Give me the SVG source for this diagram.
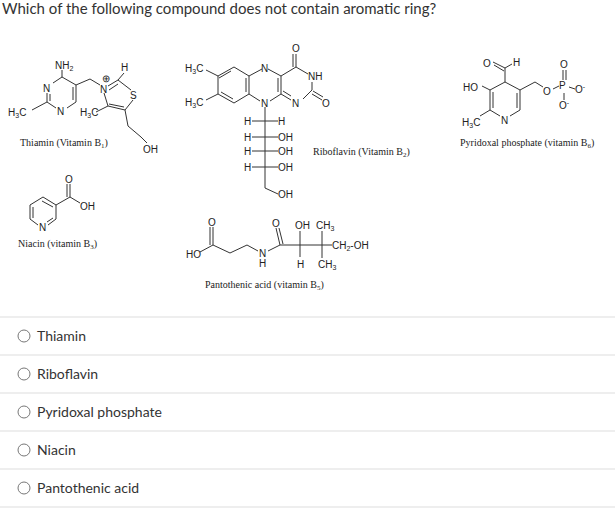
<svg xmlns="http://www.w3.org/2000/svg" width="615" height="519" viewBox="0 0 615 519">
<style>
.t{font-family:Lato,"Liberation Sans",sans-serif;fill:#333}
.q{font-size:15px}
.o{font-size:14px}
.c{font-family:"Liberation Sans",Arial,sans-serif;font-size:10px;fill:#222}
.s{font-family:"Liberation Serif","Times New Roman",serif;font-size:10px;fill:#222}
.b{stroke:#333;stroke-width:1;fill:none}
.sep{stroke:#ddd;stroke-width:1}
.r{fill:#fff;stroke:#777;stroke-width:1}
</style>
<rect width="615" height="519" fill="#fff"/>
<text class="t q" x="2" y="14">Which of the following compound does not contain aromatic ring?</text>

<g id="thiamin">
<path class="b" d="M62,70 V77 L76,85 V102 L67,108 M56,108 L47,102 V93 M53,83 L62,77 M50,101 V94 M73,87 V100 M47,102 L32,110 M76,85 L90,79 L100,85 M108,86 L118,80 L131,90 M109,90 L118,84 M118,80 L124,73 M133,100 L125,110 L108,106 L104,93 M124,107 L109,104 M108,106 L96,112 M125,110 L128,126 L141,137 L147,143"/>
<text class="c" x="55" y="69">NH<tspan font-size="7" dy="2">2</tspan></text>
<text class="c" x="43" y="92">N</text>
<text class="c" x="57" y="115">N</text>
<text class="c" x="8" y="116">H<tspan font-size="7" dy="2">3</tspan><tspan dy="-2">C</tspan></text>
<text class="c" x="80" y="116">H<tspan font-size="7" dy="2">3</tspan><tspan dy="-2">C</tspan></text>
<text class="c" x="100" y="93">N</text>
<text class="c" x="102" y="82" font-size="7">⊕</text>
<text class="c" x="121" y="71">H</text>
<text class="c" x="130" y="99">S</text>
<text class="c" x="143" y="153">OH</text>
<text class="s" x="20" y="146">Thiamin (Vitamin B<tspan font-size="7" dy="2">1</tspan><tspan dy="-2">)</tspan></text>
</g>

<g id="riboflavin">
<path class="b" d="M234,67 L249,76 V94 L234,103 L218,94 V76 Z M231,71 L219,78 M221,92 L233,99 M246,78 V92 M249,76 L262,69 M268,69 L281,76 V94 L270,101 M260,101 L249,94 M278,78 V92 M281,76 L296,67 L308,74 M296,67 V54 M293,67 V54 M312,82 V90 L303,99 M281,94 L291,100 M283,91 L291,96 M312,94 L322,100 M313,91 L323,97 M218,76 L206,70 M218,94 L206,100 M265,107 V188 L278,194 M252,121 H278 M252,137 H278 M252,151 H278 M252,167 H278"/>
<text class="c" x="185" y="72">H<tspan font-size="7" dy="2">3</tspan><tspan dy="-2">C</tspan></text>
<text class="c" x="185" y="106">H<tspan font-size="7" dy="2">3</tspan><tspan dy="-2">C</tspan></text>
<text class="c" x="261" y="72">N</text>
<text class="c" x="261" y="107">N</text>
<text class="c" x="292" y="107">N</text>
<text class="c" x="292" y="52">O</text>
<text class="c" x="308" y="80">NH</text>
<text class="c" x="322" y="107">O</text>
<text class="c" x="244" y="125">H</text><text class="c" x="278" y="125">H</text>
<text class="c" x="244" y="141">H</text><text class="c" x="278" y="141">OH</text>
<text class="c" x="244" y="155">H</text><text class="c" x="278" y="155">OH</text>
<text class="c" x="244" y="171">H</text><text class="c" x="278" y="171">OH</text>
<text class="c" x="278" y="198">OH</text>
<text class="s" x="313" y="155">Riboflavin (Vitamin B<tspan font-size="7" dy="2">2</tspan><tspan dy="-2">)</tspan></text>
</g>

<g id="pyridoxal">
<path class="b" d="M505,82 L520,90 V110 M517,93 V108 M520,110 L510,116 M500,116 L490,110 V90 L505,82 M493,108 V92 M505,82 V68 L493,62 M504,71 L494,65 M505,68 L512,64 M490,90 L482,86 M490,110 L480,116 M520,90 L535,82 L543,87 M553,89 L559,86 M563,80 V70 M566,80 V70 M569,87 L575,89 M564,93 L564,100"/>
<text class="c" x="483" y="67">O</text>
<text class="c" x="513" y="66">H</text>
<text class="c" x="463" y="91">HO</text>
<text class="c" x="462" y="126">H<tspan font-size="7" dy="2">3</tspan><tspan dy="-2">C</tspan></text>
<text class="c" x="501" y="124">N</text>
<text class="c" x="543" y="95">O</text>
<text class="c" x="559" y="89">P</text>
<text class="c" x="560" y="68">O</text>
<text class="c" x="575" y="93">O<tspan font-size="7" dy="-4">-</tspan></text>
<text class="c" x="559" y="109">O<tspan font-size="7" dy="-4">-</tspan></text>
<text class="s" x="460" y="146">Pyridoxal phosphate  (vitamin B<tspan font-size="7" dy="2">6</tspan><tspan dy="-2">)</tspan></text>
</g>

<g id="niacin">
<path class="b" d="M38,225 L30,219 V205 L43,197 L56,205 V219 L48,225 M42,201 L53,207 M33,207 V218 M53,218 L47,222 M56,205 L70,197 L80,203 M70,197 V184 M67,197 V184"/>
<text class="c" x="65" y="183">O</text>
<text class="c" x="80" y="210">OH</text>
<text class="c" x="39" y="231">N</text>
<text class="s" x="18" y="247">Niacin (vitamin B<tspan font-size="7" dy="2">3</tspan><tspan dy="-2">)</tspan></text>
</g>

<g id="pantothenic">
<path class="b" d="M200,252 L213,245 L230,253 L247,245 L258,251 M268,251 L280,245 L300,245 L322,245 H332 M213,245 V227 M210,245 V227 M280,245 L276,228 M283,244 L279,228 M300,245 V231 M300,245 V257 M322,245 V231 M322,245 V258"/>
<text class="c" x="186" y="258">HO</text>
<text class="c" x="208" y="226">O</text>
<text class="c" x="272" y="227">O</text>
<text class="c" x="259" y="257">N</text>
<text class="c" x="259" y="267">H</text>
<text class="c" x="295" y="229">OH</text>
<text class="c" x="316" y="229">CH<tspan font-size="7" dy="2">3</tspan></text>
<text class="c" x="332" y="249">CH<tspan font-size="7" dy="2">2</tspan><tspan dy="-2">-OH</tspan></text>
<text class="c" x="297" y="268">H</text>
<text class="c" x="318" y="268">CH<tspan font-size="7" dy="2">3</tspan></text>
<text class="s" x="205" y="288">Pantothenic acid (vitamin B<tspan font-size="7" dy="2">5</tspan><tspan dy="-2">)</tspan></text>
</g>

<g id="options">
<line class="sep" x1="0" y1="317" x2="615" y2="317"/>
<line class="sep" x1="0" y1="355" x2="615" y2="355"/>
<line class="sep" x1="0" y1="393" x2="615" y2="393"/>
<line class="sep" x1="0" y1="431" x2="615" y2="431"/>
<line class="sep" x1="0" y1="469" x2="615" y2="469"/>
<line class="sep" x1="0" y1="507" x2="615" y2="507"/>
<circle class="r" cx="24" cy="336" r="6"/><text class="t o" x="37" y="341">Thiamin</text>
<circle class="r" cx="24" cy="374" r="6"/><text class="t o" x="37" y="379">Riboflavin</text>
<circle class="r" cx="24" cy="412" r="6"/><text class="t o" x="37" y="417">Pyridoxal phosphate</text>
<circle class="r" cx="24" cy="450" r="6"/><text class="t o" x="37" y="455">Niacin</text>
<circle class="r" cx="24" cy="488" r="6"/><text class="t o" x="37" y="493">Pantothenic acid</text>
</g>
</svg>
